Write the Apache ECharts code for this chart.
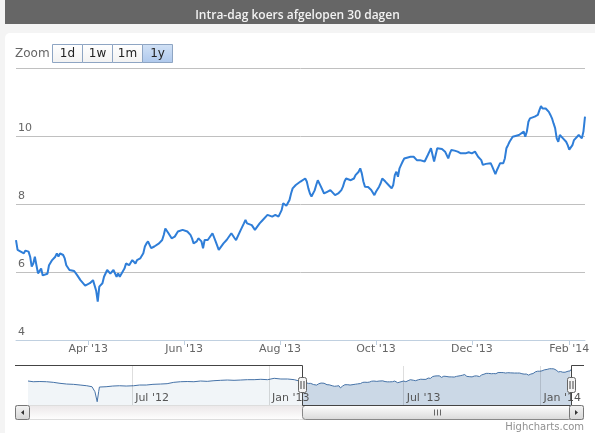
<!DOCTYPE html>
<html><head><meta charset="utf-8">
<script src="https://cdn.jsdelivr.net/npm/echarts@6/dist/echarts.min.js"></script>
<style>
html,body{margin:0;padding:0;background:#f4f4f4;width:595px;height:433px;overflow:hidden;}
#bar{position:absolute;left:5px;top:0;width:590px;height:24px;background:#666666;}
#panel{position:absolute;left:5px;top:33px;width:590px;height:400px;background:#ffffff;border-top-left-radius:5px;}
#chart{position:absolute;left:0;top:0;width:595px;height:433px;}
</style></head><body>
<div id="bar"></div><div id="panel"></div><div id="chart"></div>
<script>
const titleText = 'Intra-dag koers afgelopen 30 dagen';
const zoomLabel = 'Zoom';
const zoomButtons = ['1d', '1w', '1m', '1y'];
const selectedButton = '1y';
const creditText = 'Highcharts.com';
const monthNames = ['Jan','Feb','Mar','Apr','May','Jun','Jul','Aug','Sep','Oct','Nov','Dec'];
const mainTicks = ['2013-04-01','2013-06-01','2013-08-01','2013-10-01','2013-12-01','2014-02-01'];
const navTicks = ['2012-07-01','2013-01-01','2013-07-01','2014-01-01'];
const yMin = 4, yMax = 12, yStep = 2;
const viewStart = '2013-02-14', viewEnd = '2014-02-11';
const navStart = '2012-02-12';

const history2012 = [
['2012-02-12',7.15],['2012-02-19',6.94],['2012-02-28',7.0],['2012-03-08',6.94],['2012-03-17',6.76],
['2012-03-26',6.47],['2012-04-04',6.26],['2012-04-13',6.17],['2012-04-22',5.97],['2012-05-01',5.76],
['2012-05-08',5.47],['2012-05-12',4.0],['2012-05-15',1.06],['2012-05-17',4.0],['2012-05-18',5.38],
['2012-05-27',5.47],['2012-06-05',5.67],['2012-06-14',5.76],['2012-06-23',5.67],['2012-07-03',5.76],
['2012-07-11',5.97],['2012-07-20',5.97],['2012-07-29',6.17],['2012-08-08',6.26],['2012-08-17',6.36],
['2012-08-26',6.76],['2012-09-04',6.94],['2012-09-13',7.0],['2012-09-22',6.94],['2012-10-01',7.15],
['2012-10-10',7.05],['2012-10-19',7.24],['2012-10-28',7.35],['2012-11-06',7.44],['2012-11-15',7.35],
['2012-11-24',7.44],['2012-12-03',7.54],['2012-12-12',7.54],['2012-12-21',7.65],['2012-12-30',7.54],
['2013-01-08',7.94],['2013-01-17',7.74],['2013-01-26',7.74],['2013-02-04',7.54]
];

const prices2013H1 = [
['2013-02-14',6.94],['2013-02-15',6.65],['2013-02-17',6.6],['2013-02-19',6.55],['2013-02-20',6.63],
['2013-02-22',6.6],['2013-02-23',6.45],['2013-02-24',6.16],['2013-02-25',6.25],['2013-02-26',6.45],
['2013-02-27',6.2],['2013-02-28',5.96],['2013-03-02',6.1],['2013-03-03',5.9],['2013-03-06',5.95],
['2013-03-07',6.2],['2013-03-09',6.35],['2013-03-11',6.45],['2013-03-12',6.55],['2013-03-13',6.45],
['2013-03-14',6.55],['2013-03-16',6.5],['2013-03-17',6.4],['2013-03-18',6.2],['2013-03-20',6.06],
['2013-03-23',6.03],['2013-03-25',5.9],['2013-03-27',5.76],['2013-03-30',5.6],['2013-03-31',5.57],
['2013-04-02',5.67],['2013-04-04',5.76],['2013-04-05',5.76],['2013-04-06',5.45],['2013-04-07',5.13],
['2013-04-08',5.57],['2013-04-10',5.67],['2013-04-11',5.86],['2013-04-13',6.06],['2013-04-15',5.95],
['2013-04-17',6.06],['2013-04-19',5.86],['2013-04-20',5.96],['2013-04-21',5.86],['2013-04-22',5.9],
['2013-04-24',6.1],['2013-04-25',6.25],['2013-04-27',6.2],['2013-04-29',6.35],['2013-04-30',6.3],
['2013-05-01',6.25],['2013-05-02',6.35],['2013-05-04',6.4],['2013-05-06',6.55],['2013-05-07',6.75],
['2013-05-08',6.84],['2013-05-09',6.9],['2013-05-10',6.8],['2013-05-11',6.7],['2013-05-13',6.75],
['2013-05-16',6.84],['2013-05-18',6.94],['2013-05-19',7.09],['2013-05-20',7.28],['2013-05-21',7.23],
['2013-05-22',7.14],['2013-05-24',6.99],['2013-05-26',7.04],['2013-05-28',7.19],['2013-05-29',7.14],
['2013-05-31',7.24],['2013-06-03',7.19],['2013-06-05',7.09],['2013-06-06',6.99],['2013-06-07',6.84],
['2013-06-08',6.8],['2013-06-09',6.9],['2013-06-10',6.99],['2013-06-12',6.9],['2013-06-13',6.7],
['2013-06-14',6.94],['2013-06-16',6.94],['2013-06-19',7.14],['2013-06-21',6.9],['2013-06-23',6.65],
['2013-06-24',6.6],['2013-06-26',6.84],['2013-06-28',6.94]
];

const prices2013H2 = [
['2013-07-01',7.14],['2013-07-03',7.0],['2013-07-04',6.94],['2013-07-07',7.24],['2013-07-09',7.43],
['2013-07-10',7.53],['2013-07-11',7.43],['2013-07-12',7.48],['2013-07-14',7.38],['2013-07-16',7.24],
['2013-07-17',7.24],['2013-07-19',7.43],['2013-07-21',7.53],['2013-07-24',7.68],['2013-07-25',7.73],
['2013-07-27',7.63],['2013-07-29',7.68],['2013-07-31',7.63],['2013-08-01',7.68],['2013-08-02',7.82],
['2013-08-03',8.02],['2013-08-05',7.95],['2013-08-06',7.92],['2013-08-07',8.12],['2013-08-08',8.31],
['2013-08-09',8.46],['2013-08-11',8.56],['2013-08-12',8.61],['2013-08-14',8.66],['2013-08-15',8.66],
['2013-08-17',8.75],['2013-08-18',8.66],['2013-08-19',8.46],['2013-08-20',8.31],['2013-08-21',8.22],
['2013-08-23',8.4],['2013-08-24',8.56],['2013-08-25',8.7],['2013-08-26',8.66],['2013-08-27',8.51],
['2013-08-29',8.31],['2013-08-31',8.36],['2013-09-02',8.41],['2013-09-03',8.36],['2013-09-05',8.26],
['2013-09-07',8.31],['2013-09-09',8.41],['2013-09-10',8.51],['2013-09-11',8.66],['2013-09-12',8.75],
['2013-09-15',8.7],['2013-09-16',8.66],['2013-09-17',8.75],['2013-09-18',8.85],['2013-09-20',8.95],
['2013-09-21',9.05],['2013-09-22',8.9],['2013-09-23',8.66],['2013-09-24',8.51],['2013-09-26',8.5],
['2013-09-28',8.41],['2013-09-30',8.26],['2013-10-01',8.36],['2013-10-03',8.51],['2013-10-04',8.61],
['2013-10-05',8.75],['2013-10-07',8.66],['2013-10-09',8.56],['2013-10-11',8.46],['2013-10-12',8.56],
['2013-10-13',8.85],['2013-10-14',8.95],['2013-10-15',8.8],['2013-10-16',9.05],['2013-10-17',9.15],
['2013-10-18',9.25],['2013-10-19',9.34],['2013-10-20',9.39],['2013-10-23',9.39],['2013-10-24',9.34],
['2013-10-25',9.39],['2013-10-27',9.29],['2013-10-29',9.29],['2013-10-30',9.34],['2013-11-01',9.25],
['2013-11-02',9.29],['2013-11-03',9.44],['2013-11-04',9.54],['2013-11-05',9.64],['2013-11-06',9.6],
['2013-11-07',9.25],['2013-11-09',9.64],['2013-11-10',9.68],['2013-11-12',9.62],['2013-11-14',9.54],
['2013-11-15',9.49],['2013-11-16',9.34],['2013-11-17',9.49],['2013-11-18',9.59],['2013-11-20',9.57],
['2013-11-22',9.54],['2013-11-24',9.49],['2013-11-27',9.49],['2013-11-29',9.52],['2013-12-01',9.49],
['2013-12-03',9.54],['2013-12-04',9.49],['2013-12-05',9.39],['2013-12-06',9.34],['2013-12-07',9.29],
['2013-12-08',9.15],['2013-12-09',9.12],['2013-12-10',9.18],['2013-12-13',9.2],['2013-12-14',9.1],
['2013-12-15',9.05],['2013-12-16',8.88],['2013-12-17',9.0],['2013-12-18',9.1],['2013-12-19',9.2],
['2013-12-20',9.25],['2013-12-21',9.2],['2013-12-22',9.34],['2013-12-23',9.64],['2013-12-24',9.73],
['2013-12-25',9.83],['2013-12-26',9.88],['2013-12-27',9.98],['2013-12-28',10.03],['2013-12-31',10.03]
];

const prices2014 = [
['2014-01-01',10.08],['2014-01-03',10.13],['2014-01-04',9.98],['2014-01-05',10.13],['2014-01-06',10.42],
['2014-01-07',10.52],['2014-01-08',10.47],['2014-01-10',10.57],['2014-01-12',10.62],['2014-01-13',10.76],
['2014-01-14',10.88],['2014-01-15',10.81],['2014-01-16',10.76],['2014-01-17',10.81],['2014-01-19',10.71],
['2014-01-20',10.62],['2014-01-21',10.52],['2014-01-22',10.37],['2014-01-23',10.23],['2014-01-24',9.93],
['2014-01-25',9.83],['2014-01-26',10.03],['2014-01-27',10.08],['2014-01-28',9.93],['2014-01-30',9.83],
['2014-01-31',9.73],['2014-02-01',9.6],['2014-02-03',9.73],['2014-02-04',9.88],['2014-02-05',9.93],
['2014-02-07',10.03],['2014-02-08',9.98],['2014-02-09',9.93],['2014-02-10',10.13],['2014-02-11',10.57]
];

const t = s => { const p = s.split('-'); return new Date(+p[0], +p[1] - 1, +p[2]).getTime(); };
const fmt = v => { const d = new Date(v); return monthNames[d.getMonth()] + " '" + String(d.getFullYear()).slice(2); };

const mainPairs = prices2013H1.concat(prices2013H2, prices2014);
const mainData = mainPairs.map(p => [t(p[0]), p[1]]);
const navData = history2012.concat(mainPairs).map(p => [t(p[0]), p[1]]);
const mainTickVals = mainTicks.map(t);
const navTickVals = navTicks.map(t);

const FONT = 'DejaVu Sans';
const chart = echarts.init(document.getElementById('chart'), null, {renderer: 'canvas'});

const NAV_TOP = 366, NAV_H = 39;

chart.setOption({
  animation: false,
  backgroundColor: 'transparent',
  textStyle: {fontFamily: FONT},
  title: {
    text: titleText, left: 'center', top: 5,
    textStyle: {color: '#f2f2f2', fontSize: 12, fontWeight: 600, fontFamily: 'Open Sans'}
  },
  grid: [
    {left: 16, right: 10, top: 68, height: 272},
    {left: 28, right: 24, top: NAV_TOP, height: NAV_H}
  ],
  xAxis: [
    {
      type: 'value', gridIndex: 0, min: t(viewStart), max: t(viewEnd),
      axisLine: {lineStyle: {color: '#C0D0E0'}},
      axisTick: {show: true, length: 5, lineStyle: {color: '#C0D0E0'}, customValues: mainTickVals},
      axisLabel: {customValues: mainTickVals, formatter: fmt, color: '#666', fontSize: 11, margin: 4, fontFamily: FONT},
      splitLine: {show: false}
    },
    {
      type: 'value', gridIndex: 1, min: t(navStart), max: t(viewEnd), z: 4,
      axisLine: {show: false},
      axisTick: {show: false, customValues: navTickVals},
      axisLabel: {inside: true, customValues: navTickVals, formatter: fmt, align: 'left', padding: [0, 0, 0, 3],
                  margin: 1, color: '#555', fontSize: 11, fontFamily: FONT},
      splitLine: {show: true, lineStyle: {color: 'rgba(0,0,0,0.13)', width: 1}}
    }
  ],
  yAxis: [
    {
      type: 'value', gridIndex: 0, min: yMin, max: yMax, interval: yStep,
      axisLine: {show: false}, axisTick: {show: false},
      splitLine: {lineStyle: {color: '#C0C0C0'}},
      axisLabel: {inside: true, showMaxLabel: false, verticalAlign: 'bottom', margin: 2,
                  padding: [0, 0, 2, 0], color: '#666', fontSize: 11, fontFamily: FONT}
    },
    {type: 'value', gridIndex: 1, min: 0.1, max: 11.56, show: false}
  ],
  series: [
    {
      type: 'line', xAxisIndex: 0, yAxisIndex: 0, data: mainData, showSymbol: false, silent: true,
      lineStyle: {color: '#2f7ed8', width: 2}, itemStyle: {color: '#2f7ed8'}
    },
    {
      type: 'line', xAxisIndex: 1, yAxisIndex: 1, data: navData, showSymbol: false, silent: true,
      lineStyle: {color: '#4572A7', width: 1}, itemStyle: {color: '#4572A7'},
      areaStyle: {color: 'rgba(69,114,167,0.4)'}
    }
  ]
});

const x0 = Math.round(chart.convertToPixel({xAxisIndex: 1}, t(viewStart))) + 0.5;
const x1 = Math.round(chart.convertToPixel({xAxisIndex: 1}, t(viewEnd))) + 0.5;
const navLeft = Math.round(chart.convertToPixel({xAxisIndex: 1}, t(navStart)));
const NB = NAV_TOP + NAV_H;
const OUT_L = 15, OUT_R = 584;
const SB_Y = NB, SB_H = 14;

const vGrad = (a, b) => new echarts.graphic.LinearGradient(0, 0, 0, 1, [{offset: 0, color: a}, {offset: 1, color: b}]);

const g = [];
g.push({type: 'rect', z: 3, silent: true, shape: {x: navLeft, y: NAV_TOP, width: x0 - navLeft, height: NAV_H},
        style: {fill: 'rgba(255,255,255,0.75)'}});
g.push({type: 'polyline', z: 10, silent: true,
        shape: {points: [[OUT_L, NAV_TOP - 0.5], [x0, NAV_TOP - 0.5], [x0, NB + 0.5], [x1, NB + 0.5], [x1, NAV_TOP - 0.5], [OUT_R, NAV_TOP - 0.5]]},
        style: {stroke: '#444', lineWidth: 1, fill: null}});
g.push({type: 'rect', z: 8, silent: true, shape: {x: OUT_L + 0.5, y: SB_Y + 0.5, width: OUT_R - OUT_L - 1, height: SB_H},
        style: {fill: vGrad('#ebe7e8', '#ffffff'), stroke: '#dddddd', lineWidth: 1}});
g.push({type: 'rect', z: 9, silent: true, shape: {x: x0, y: SB_Y + 0.5, width: x1 - x0, height: SB_H, r: 3},
        style: {fill: vGrad('#ffffff', '#d8d8d8'), stroke: '#888', lineWidth: 1}});
const cx = Math.round((x0 + x1) / 2) + 0.5;
[-3, 0, 3].forEach(dx => g.push({type: 'line', z: 10, silent: true,
  shape: {x1: cx + dx, y1: SB_Y + 4.5, x2: cx + dx, y2: SB_Y + 10.5}, style: {stroke: '#666', lineWidth: 1}}));
[[OUT_L + 0.5, -1], [OUT_R - 14.5, 1]].forEach(([bx, dir]) => {
  g.push({type: 'rect', z: 10, silent: true, shape: {x: bx, y: SB_Y + 0.5, width: 14, height: SB_H, r: 2},
          style: {fill: vGrad('#f4f4f4', '#d6d6d6'), stroke: '#777', lineWidth: 1}});
  const mx = bx + 7, my = SB_Y + 7.5;
  g.push({type: 'polygon', z: 11, silent: true,
          shape: {points: [[mx + 1.5 * dir, my], [mx - 1.5 * dir, my - 2.5], [mx - 1.5 * dir, my + 2.5]]},
          style: {fill: '#333'}});
});
[x0, x1].forEach(hx => {
  g.push({type: 'rect', z: 12, silent: true, shape: {x: hx - 4, y: NAV_TOP + 11.5, width: 8, height: 15, r: 2},
          style: {fill: '#f4f4f4', stroke: '#666', lineWidth: 1}});
  [-1.5, 1.5].forEach(dx => g.push({type: 'line', z: 13, silent: true,
    shape: {x1: hx + dx, y1: NAV_TOP + 15, x2: hx + dx, y2: NAV_TOP + 23}, style: {stroke: '#444', lineWidth: 1}}));
});
g.push({type: 'text', z: 10, silent: true, x: 15, y: 54,
        style: {text: zoomLabel, fill: '#666', font: '12px ' + FONT, align: 'left', verticalAlign: 'middle'}});
zoomButtons.forEach((lab, i) => {
  const bx = 52.5 + i * 30, sel = lab === selectedButton;
  g.push({type: 'rect', z: 10, silent: true, shape: {x: bx, y: 44.5, width: 30, height: 18},
          style: {fill: sel ? vGrad('#d2e2f6', '#aec8ec') : vGrad('#ffffff', '#f2f2f2'), stroke: '#8ea5c3', lineWidth: 1}});
  g.push({type: 'text', z: 11, silent: true, x: bx + 15, y: 54,
          style: {text: lab, fill: '#222', font: '12px ' + FONT, align: 'center', verticalAlign: 'middle'}});
});
g.push({type: 'text', z: 10, silent: true, x: 584, y: 427,
        style: {text: creditText, fill: '#909090', font: '10px ' + FONT, align: 'right', verticalAlign: 'middle'}});

chart.setOption({graphic: g});
</script></body></html>
